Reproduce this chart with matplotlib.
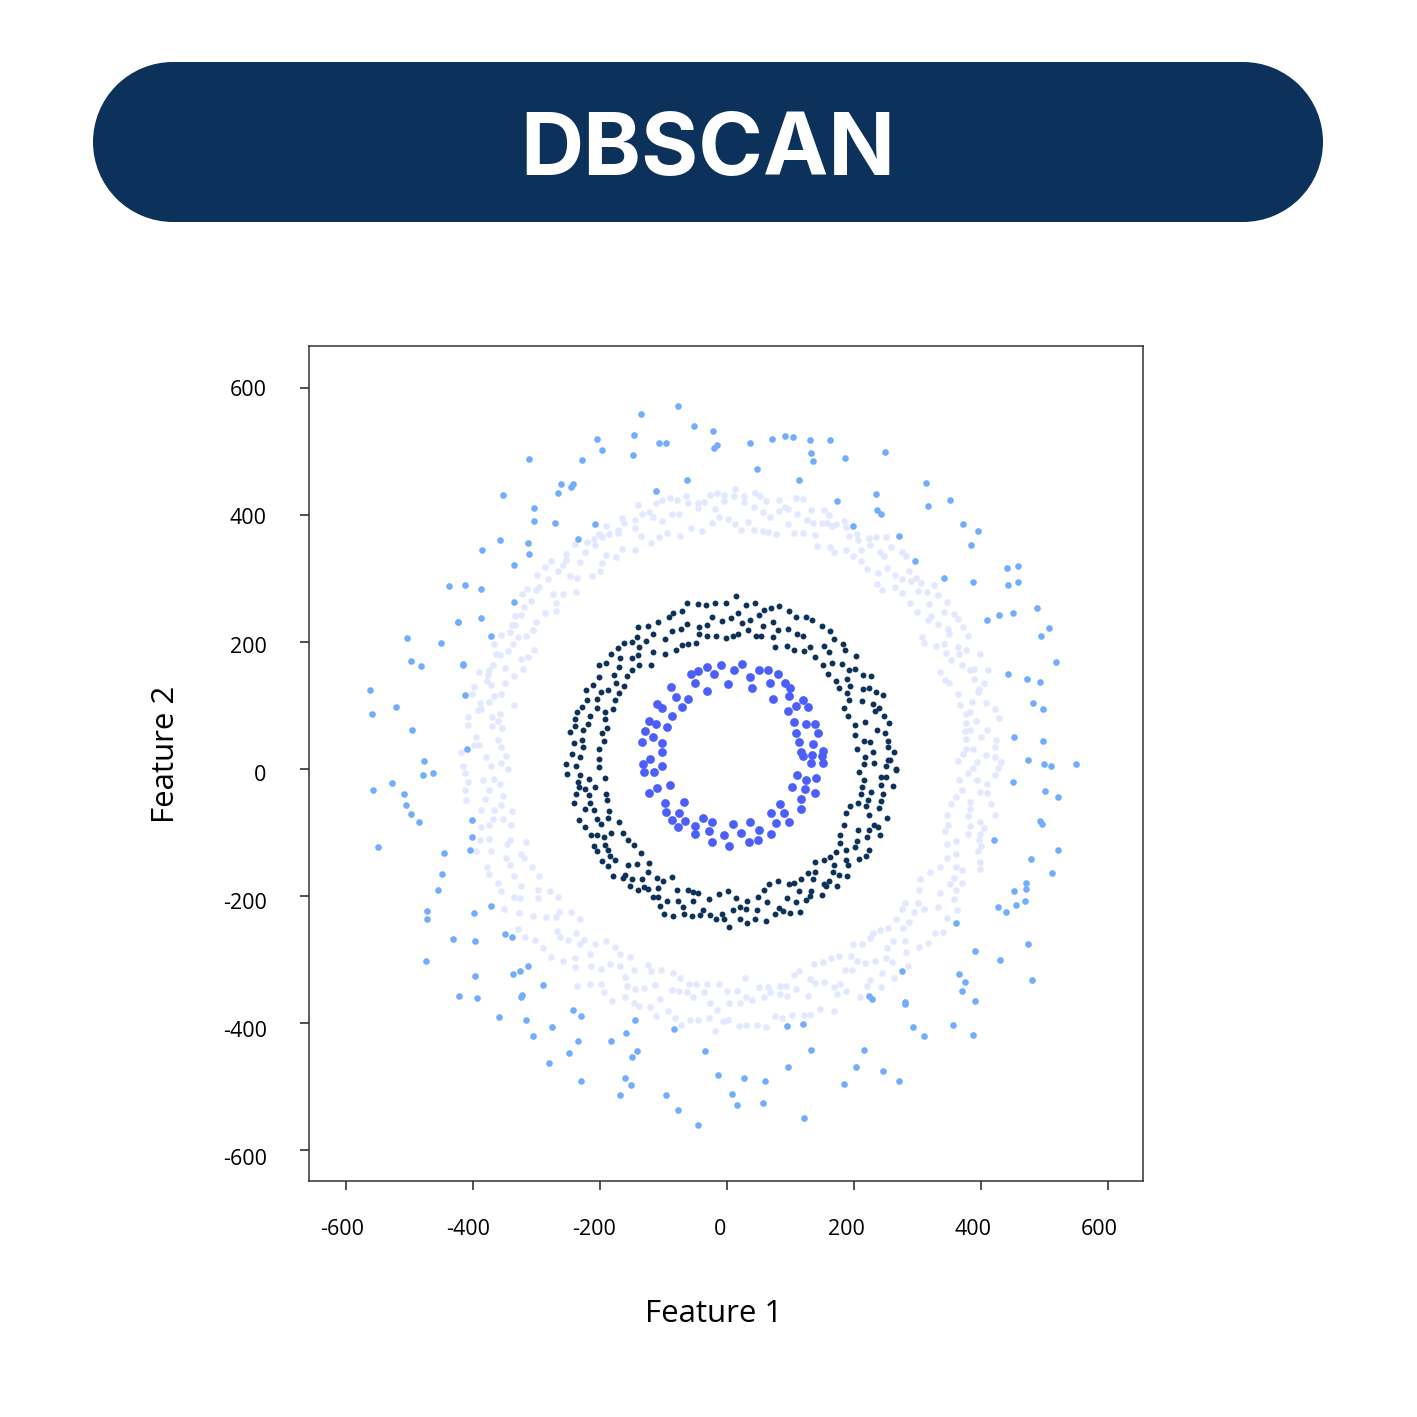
import matplotlib
matplotlib.use('Agg')
import matplotlib.pyplot as plt
from matplotlib.patches import Circle, Rectangle
from matplotlib.transforms import ScaledTranslation

# cluster points (feature 1, feature 2)
inner_ring = [
    (-10,164),(24,165),(11,155),(-32,160),(-45,154),(-57,149),(-21,149),(-51,136),(1,134),(-32,123),
    (36,145),(40,128),(51,155),(65,155),(80,149),(68,136),(92,136),(100,128),(97,115),(72,110),
    (119,108),(109,99),(128,98),(96,91),(106,74),(125,70),(138,70),(144,57),(109,56),(113,43),
    (135,39),(151,28),(117,27),(119,21),(134,22),(150,20),(151,9),(132,9),(110,-10),(140,-15),
    (125,-18),(103,-28),(123,-31),(138,-38),(116,-48),(84,-55),(116,-63),(90,-69),(69,-70),(78,-85),
    (97,-84),(37,-83),(51,-96),(9,-86),(69,-103),(22,-101),(49,-112),(35,-115),(-5,-104),(4,-121),
    (-23,-115),(-29,-98),(-23,-83),(-37,-78),(-50,-90),(-50,-103),(-66,-82),(-77,-91),(-87,-81),(-76,-69),
    (-96,-68),(-68,-52),(-97,-53),(-90,-25),(-110,-30),(-122,-38),(-103,5),(-115,-5),(-131,-5),(-132,7),
    (-121,15),(-103,26),(-103,41),(-117,50),(-134,43),(-129,59),(-123,75),(-111,71),(-94,66),(-87,84),
    (-110,102),(-102,96),(-70,98),(-61,110),(-81,113),(-88,129),
]

dark_ring = [
    (-63,261),(-45,259),(-33,258),(-19,261),(-1,261),(-71,249),(-85,246),(-92,239),(-24,240),(-8,233),
    (-109,232),(-125,225),(-140,223),(-63,228),(-72,221),(-44,223),(-31,227),(-86,217),(-44,213),(-32,210),
    (-18,209),(-2,206),(-117,212),(-142,208),(-98,205),(-127,201),(-149,200),(-162,198),(-138,192),(-171,190),
    (-49,198),(-61,196),(-71,195),(-81,187),(-97,181),(-117,184),(-140,180),(-149,174),(-183,181),(-168,174),
    (-190,167),(-202,164),(-170,161),(-138,164),(-119,164),(-149,156),(-178,148),(-158,146),(-201,144),(-175,136),
    (-211,132),(-222,125),(-187,125),(-199,121),(-162,130),(-170,120),(-204,110),(-220,108),(-176,109),(-228,98),
    (-204,96),(-180,95),(-236,90),(-192,89),(-215,83),(-240,78),(-192,78),(-218,71),(-240,68),(-227,62),
    (-189,64),(-247,58),(-197,57),(-194,44),(-228,46),(-241,41),(-227,34),(-201,32),(-244,23),(-231,18),
    (-201,16),(-253,8),(-237,4),(-201,3),
    (15,273),(30,258),(44,262),(6,237),(17,246),(59,250),(50,242),(37,235),(70,254),(82,256),
    (97,249),(108,240),(72,232),(24,229),(56,225),(124,239),(134,234),(150,225),(162,217),(33,218),
    (81,219),(96,220),(18,212),(9,209),(46,210),(54,209),(72,207),(110,213),(120,209),(169,204),
    (183,197),(76,192),(94,194),(106,188),(122,186),(130,192),(153,194),(186,187),(161,184),(138,176),
    (203,178),(166,167),(151,164),(181,165),(192,155),(202,158),(159,150),(214,148),(227,146),(189,141),
    (171,138),(193,131),(176,128),(214,126),(224,128),(189,120),(235,121),(245,117),(192,109),(213,107),
    (230,102),(239,96),(233,91),(184,96),(191,83),(248,84),(255,72),(218,74),(201,69),(236,62),
    (249,56),(202,54),(215,44),(225,42),(253,44),(254,34),(205,32),(263,27),(230,26),(217,18),
    (253,14),(257,14),(231,10),(216,7),(250,5),(266,0),
    (-252,-8),(-232,-10),(-217,-16),(-235,-20),(-192,-14),(-233,-28),(-223,-32),(-208,-29),(-238,-39),(-217,-41),
    (-191,-40),(-189,-49),(-241,-54),(-216,-54),(-224,-63),(-210,-64),(-186,-66),(-188,-77),(-205,-79),(-233,-81),
    (-199,-86),(-170,-84),(-223,-92),(-214,-104),(-204,-104),(-193,-107),(-182,-101),(-163,-101),(-155,-112),(-147,-120),
    (-210,-122),(-192,-120),(-204,-129),(-187,-127),(-136,-132),(-184,-137),(-196,-145),(-176,-143),(-187,-153),(-156,-151),
    (-141,-150),(-123,-148),(-125,-162),(-180,-169),(-160,-167),(-163,-172),(-150,-173),(-133,-173),(-110,-172),(-101,-177),
    (-86,-171),(-153,-184),(-140,-190),(-130,-186),(-125,-189),(-109,-188),(-79,-190),(-61,-191),(-54,-194),(-45,-196),
    (-13,-197),(2,-192),(-117,-202),(-109,-202),(-94,-208),(-77,-208),(-54,-208),(-29,-205),(-105,-216),(-69,-217),
    (-38,-222),(-99,-228),(-85,-232),(-67,-229),(-55,-232),(-43,-230),(-26,-230),(-18,-237),(-8,-229),(-5,-237),(4,-249),
    (208,-5),(266,-2),(216,-17),(242,-12),(250,-13),(243,-26),(261,-27),(213,-29),(227,-36),(211,-39),
    (245,-39),(222,-49),(242,-50),(206,-53),(194,-59),(219,-59),(240,-62),(188,-70),(224,-73),(252,-77),
    (184,-88),(231,-88),(238,-91),(207,-97),(223,-97),(178,-104),(221,-107),(241,-104),(204,-113),(178,-117),
    (202,-123),(188,-128),(223,-127),(171,-131),(163,-139),(219,-137),(208,-142),(152,-143),(138,-147),(188,-144),
    (190,-151),(169,-151),(139,-162),(127,-164),(167,-163),(177,-167),(189,-169),(117,-174),(136,-174),(80,-177),
    (106,-180),(97,-181),(66,-182),(160,-177),(153,-181),(156,-185),(174,-184),(58,-191),(114,-193),(132,-192),
    (150,-198),(131,-200),(49,-201),(15,-203),(94,-203),(124,-207),(32,-208),(63,-209),(108,-209),(20,-217),
    (30,-221),(48,-222),(9,-223),(82,-219),(88,-224),(76,-228),(100,-227),(115,-225),(20,-236),(44,-236),
    (61,-239),(31,-243),
]

outer_band = [
    (-140,416),(-112,419),(-102,423),(-90,427),(-78,424),(-65,430),(-61,418),(-46,418),(-45,411),(-36,420),
    (-27,431),(-16,434),(-4,431),(-5,422),(-19,410),(-134,402),(-123,404),(-116,396),(-102,391),(-87,401),
    (-76,402),(-166,395),(-162,388),(-144,392),(-144,379),(-13,396),(-23,388),(1,393),(-191,382),(-202,370),
    (-171,376),(-171,371),(-186,370),(-197,365),(-210,362),(-221,357),(-207,352),(-240,354),(-56,379),(-40,374),
    (-94,372),(-74,367),(-107,365),(-136,366),(-119,355),(-165,346),(-144,345),(-223,341),(-191,337),(-174,333),
    (-253,338),(-253,329),(-277,328),(-232,326),(-258,321),(-287,318),(-196,325),(-200,312),(-266,311),(-299,306),
    (-247,304),(-236,300),(-213,304),(-281,299),(-315,284),(-296,286),(-300,282),(-323,275),(-274,275),(-258,275),
    (-237,278),(-308,265),(-269,262),(-319,255),(-286,245),(-269,249),(-334,241),(-325,242),(-301,231),(-338,227),
    (-334,227),(-306,219),(-341,216),(-356,211),(-317,210),(-329,207),(-367,196),(-337,197),(-345,186),(-303,188),
    (-364,181),(-357,179),(-313,177),(-324,173),(-369,163),(-350,159),(-321,158),(-390,153),(-375,155),(-376,148),
    (-335,146),(-378,139),(-349,135),(-371,132),(-398,129),(-401,118),(-366,115),(-355,118),(-375,105),(-389,104),
    (-335,100),(-392,92),(-387,94),(-357,87),(-408,82),(-370,81),(-361,75),(-407,69),(-370,67),(-354,64),
    (-395,51),(-361,46),(-399,37),(-391,37),(-355,35),(-419,27),(-380,18),(-348,20),(-416,5),(-356,10),
    (-371,4),(-344,0),
    (13,441),(11,429),(27,430),(27,421),(44,434),(52,430),(62,422),(82,423),(109,427),(119,425),
    (43,412),(57,405),(67,397),(82,406),(91,412),(96,409),(110,401),(132,408),(152,408),(161,400),
    (13,385),(22,377),(33,389),(43,376),(56,374),(64,373),(77,370),(96,385),(106,371),(119,371),
    (126,392),(136,388),(149,388),(158,388),(165,383),(172,386),(185,390),(187,381),(139,368),(205,370),
    (206,361),(192,366),(223,363),(234,365),(251,365),(142,351),(162,349),(169,341),(188,344),(198,335),
    (211,345),(225,352),(258,350),(241,342),(248,335),(211,328),(275,341),(282,335),(221,315),(238,309),
    (252,316),(286,312),(265,306),(275,299),(290,296),(297,301),(305,292),(236,291),(244,282),(264,286),
    (276,277),(301,280),(315,279),(326,289),(333,274),(347,263),(288,262),(318,259),(299,247),(342,247),
    (358,244),(363,236),(321,241),(316,234),(333,228),(372,224),(348,221),(350,212),(380,209),(307,208),
    (311,198),(329,193),(342,196),(364,192),(376,188),(345,182),(366,181),(399,181),(352,172),(370,164),
    (383,156),(389,158),(411,156),(335,152),(389,141),(344,140),(349,135),(405,135),(397,126),(396,121),
    (364,118),(386,106),(408,104),(367,100),(422,94),(383,90),(376,86),(428,80),(392,76),(376,73),
    (382,61),(375,59),(409,61),(400,50),(376,47),(424,46),(422,35),(388,32),(376,31),(372,24),
    (408,22),(422,18),(431,11),(364,12),(393,11),(387,2),(427,1),
    (-413,-6),(-408,-20),(-384,-18),(-366,-16),(-358,-24),(-413,-34),(-375,-33),(-353,-42),(-411,-49),(-381,-47),
    (-355,-57),(-388,-64),(-366,-64),(-338,-67),(-368,-79),(-352,-79),(-388,-92),(-375,-89),(-340,-89),(-389,-112),
    (-374,-110),(-341,-112),(-347,-119),(-317,-115),(-395,-130),(-371,-130),(-325,-134),(-319,-141),(-348,-140),(-342,-152),
    (-377,-155),(-307,-155),(-374,-165),(-335,-168),(-296,-168),(-361,-180),(-324,-184),(-355,-192),(-297,-190),(-278,-193),
    (-335,-202),(-326,-203),(-298,-204),(-266,-202),(-351,-220),(-328,-227),(-305,-232),(-285,-233),(-269,-233),(-265,-225),
    (-245,-225),(-231,-237),(-329,-252),(-267,-256),(-238,-259),(-263,-265),(-318,-265),(-302,-270),(-251,-269),(-225,-270),
    (-232,-275),(-207,-275),(-191,-271),(-177,-281),(-289,-282),(-215,-292),(-168,-292),(-152,-297),(-277,-297),(-239,-298),
    (-258,-303),(-184,-307),(-214,-310),(-240,-312),(-199,-315),(-168,-311),(-125,-309),(-147,-317),(-119,-319),(-104,-317),
    (-85,-321),(-160,-327),(-74,-330),(-215,-338),(-236,-342),(-198,-338),(-157,-342),(-144,-346),(-130,-345),(-113,-341),
    (-60,-338),(-48,-338),(-31,-339),(-13,-338),(-87,-348),(-76,-350),(-63,-352),(-53,-359),(-36,-352),(0,-350),
    (-193,-352),(-160,-360),(-106,-362),(-181,-366),(-147,-369),(-138,-373),(-121,-375),(-26,-369),(-16,-380),(-93,-381),
    (-112,-389),(-82,-392),(-58,-395),(-46,-395),(-28,-393),(-6,-397),(-73,-403),(-19,-413),(2,-395),
    (380,-6),(365,-18),(393,-18),(422,-10),(409,-23),(370,-33),(399,-36),(409,-38),(361,-45),(383,-52),
    (352,-55),(416,-56),(382,-63),(379,-74),(347,-72),(422,-73),(398,-84),(348,-89),(383,-90),(404,-93),
    (343,-98),(380,-103),(398,-102),(397,-112),(361,-114),(346,-119),(400,-121),(395,-129),(361,-134),(346,-140),
    (399,-147),(399,-157),(336,-155),(361,-155),(370,-159),(320,-163),(304,-174),(357,-172),(351,-182),(370,-180),
    (302,-190),(360,-191),(335,-195),(358,-205),(280,-211),(301,-211),(276,-221),(310,-220),(294,-225),(332,-218),
    (362,-222),(347,-235),(266,-237),(286,-241),(254,-250),(277,-251),(241,-254),(230,-259),(225,-267),(327,-259),
    (340,-257),(261,-271),(281,-271),(199,-276),(212,-276),(252,-282),(317,-274),(302,-281),(282,-288),(176,-294),
    (196,-295),(164,-298),(151,-304),(137,-307),(205,-303),(218,-305),(233,-302),(251,-298),(260,-304),(285,-310),
    (186,-317),(197,-317),(114,-318),(106,-325),(244,-321),(263,-329),(29,-329),(131,-331),(138,-337),(153,-335),
    (225,-333),(178,-339),(168,-343),(221,-342),(243,-343),(50,-343),(65,-344),(84,-342),(93,-342),(16,-350),
    (68,-352),(109,-347),(187,-350),(174,-355),(84,-355),(95,-358),(128,-358),(59,-359),(30,-360),(40,-364),
    (209,-360),(4,-368),(21,-369),(147,-378),(168,-381),(76,-389),(87,-393),(103,-387),(121,-388),(131,-387),
    (19,-405),(30,-403),(47,-403),(62,-406),
]

noise = [
    (-353,431),(-303,411),(-303,391),(-270,387),(-266,435),(-262,449),(-246,444),(-242,449),(-111,437),(-207,386),
    (-358,361),(-385,345),(-313,356),(-312,339),(-235,362),(-336,321),(-413,290),(-387,284),(-437,288),(-335,263),
    (-423,231),(-387,238),(-371,209),(-415,164),(-413,116),(-409,32),(-63,455),
    (113,455),(314,451),(235,433),(174,422),(351,424),(317,414),(236,407),(242,401),(372,386),
    (198,383),(395,375),(271,367),(384,352),(296,328),(441,316),(341,300),(388,295),(442,290),(451,246),
    (429,242),(410,234),(443,149),(452,51),
    (-401,-80),(-402,-108),(-404,-127),(-371,-216),(-399,-227),(-350,-260),(-338,-265),(-431,-268),(-397,-271),(-313,-310),
    (-326,-319),(-337,-323),(-396,-326),(-290,-340),(-422,-358),(-393,-361),(-323,-356),(-324,-359),(-243,-379),(-230,-389),
    (-359,-390),(-316,-396),(-145,-395),(-275,-407),(-159,-416),(-84,-410),(-305,-421),(-235,-428),(-182,-429),
    (450,-21),(421,-112),(452,-192),(426,-217),(439,-226),(361,-242),(390,-287),(430,-301),(275,-319),(366,-323),
    (374,-336),(370,-350),(390,-365),(224,-357),(228,-363),(280,-367),(280,-371),(95,-405),(120,-402),(293,-407),
    (356,-404),(310,-420),(388,-419),
    (-77,572),(-135,559),(-52,540),(-22,532),(-146,526),(-205,520),(-107,513),(-96,513),(91,524),(104,523),
    (131,518),(162,518),(71,520),(36,513),(-16,510),(-20,506),(-197,502),(-148,495),(132,498),(135,485),
    (186,490),(249,499),(-312,488),(-228,487),(47,473),
    (-562,124),(-559,87),(-521,98),(-504,206),(-498,170),(-482,162),(-496,61),(-477,13),(-479,-9),(-463,-6),
    (-558,-33),(-528,-22),(-509,-39),(-506,-57),(-498,-71),(-485,-83),(-550,-123),(-450,198),(-424,232),(-416,165),
    (-446,-132),(-449,-165),(-455,-191),(-472,-224),(-472,-236),(-474,-302),
    (488,254),(495,209),(507,222),(518,169),(472,142),(493,137),(482,104),(498,94),(498,44),(474,14),
    (499,8),(510,5),(550,8),(501,-35),(521,-44),(493,-82),(496,-87),(479,-142),(521,-128),(512,-164),
    (471,-180),(471,-189),(469,-208),(455,-214),(474,-276),(480,-332),(458,320),(458,295),
    (-35,-444),(-142,-444),(216,-443),(132,-443),(-249,-447),(-280,-463),(-150,-454),(203,-469),(96,-469),(246,-476),
    (184,-496),(271,-491),(-14,-482),(27,-487),(60,-491),(-230,-491),(-161,-487),(-151,-498),(8,-512),(-169,-513),
    (-96,-513),(16,-529),(57,-526),(-77,-537),(121,-550),(-46,-561),
]

ticks = [-600, -400, -200, 0, 200, 400, 600]

NAVY = '#0c315a'
W, H = 1417, 1417

plt.rcParams['font.family'] = ['Open Sans', 'DejaVu Sans']
plt.rcParams['axes.unicode_minus'] = False

fig = plt.figure(figsize=(W / 100, H / 100), dpi=100, facecolor='white')

# title pill: a bar with a round cap on each end
fig.add_artist(Rectangle((173 / W, 1 - 222 / H), 1070 / W, 160 / H, transform=fig.transFigure,
                         facecolor=NAVY, edgecolor='none'))
for cx in (173, 1243):
    fig.add_artist(Circle((cx / W, 1 - 142 / H), 80 / W, transform=fig.transFigure,
                          facecolor=NAVY, edgecolor='none'))
fig.text(708 / W, 1 - 152 / H, 'DBSCAN', color='white', fontsize=63, fontweight='bold',
         family=['Inter', 'DejaVu Sans'], ha='center', va='center')

ax = fig.add_axes([309 / W, 1 - 1181 / H, 834 / W, 835 / H])

for pts, color, size in [(outer_band, '#e2e8ff', 23), (noise, '#72aefc', 23),
                         (dark_ring, NAVY, 18), (inner_ring, '#4d5ffb', 40)]:
    xs, ys = zip(*pts)
    ax.scatter(xs, ys, s=size, c=color, linewidths=0)

ax.set_xlim(-658, 655)
ax.set_ylim(-649, 666)
ax.set_xticks(ticks)
ax.set_yticks(ticks)
ax.tick_params(length=6.5, width=1.1, color='#222222', labelsize=15.5, labelcolor='black')
ax.tick_params(axis='x', pad=21)
ax.tick_params(axis='y', pad=24)

for spine in ax.spines.values():
    spine.set_linewidth(1.1)
    spine.set_color('#333333')

# the labels sit a little off their ticks in the original
for i, label in enumerate(ax.get_xticklabels()):
    dx = -(4 + 0.8 * i) / 100
    label.set_transform(label.get_transform() + ScaledTranslation(dx, 0, fig.dpi_scale_trans))
for i, label in enumerate(ax.get_yticklabels()):
    dy = -(7 - 1.1 * i) / 100
    label.set_transform(label.get_transform() + ScaledTranslation(0, dy, fig.dpi_scale_trans))

fig.text(714 / W, 1 - 1314 / H, 'Feature 1', fontsize=22.5, ha='center', va='center')
fig.text(166 / W, 1 - 754 / H, 'Feature 2', fontsize=22.5, rotation=90, ha='center', va='center')

fig.savefig('out.png', dpi=100)
